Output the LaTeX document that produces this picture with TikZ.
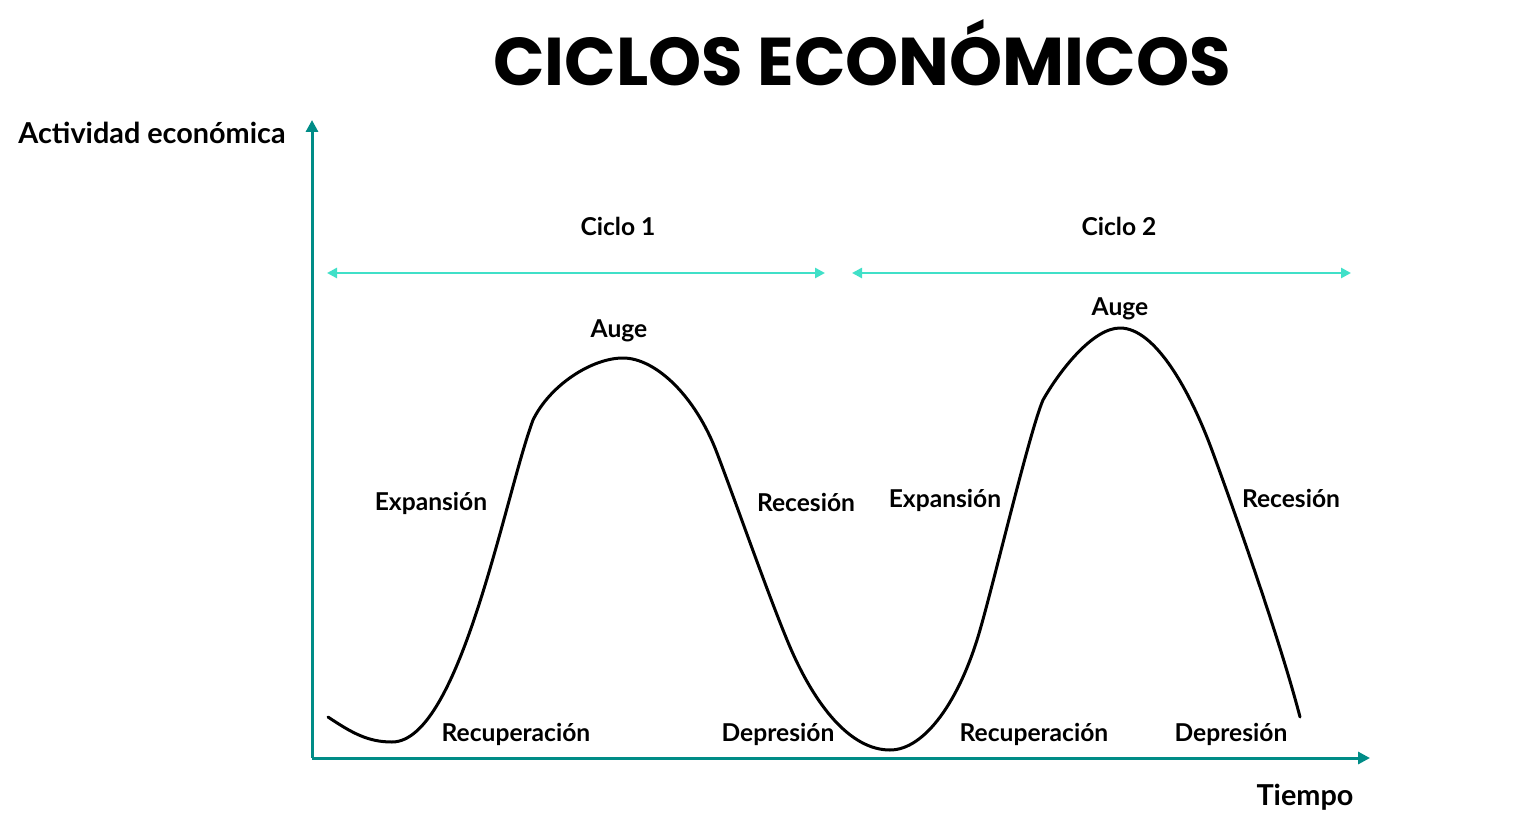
\documentclass[tikz,border=0pt]{standalone}
\usepackage{fontspec}
\setmainfont{Lato}
\newfontfamily\titlefont{Poppins}
\usetikzlibrary{arrows.meta}
\definecolor{axisteal}{RGB}{0,140,135}
\definecolor{cyclecol}{RGB}{64,224,200}
\begin{document}
\begin{tikzpicture}[x=0.5pt,y=-0.5pt,
  axis/.style={draw=axisteal,line width=1.5pt,-{Triangle[length=6pt,width=6pt]}},
  cyc/.style={draw=cyclecol,line width=1.4pt,{Triangle[length=5pt,width=5pt]}-{Triangle[length=5pt,width=5pt]}},
  lbl/.style={font=\fontsize{12.3}{14}\selectfont\bfseries,text=black,inner sep=0pt},
  axlbl/.style={font=\fontsize{14.4}{16}\selectfont\bfseries,text=black,inner sep=0pt},
  curve/.style={draw=black,line width=1.5pt,line cap=round,line join=round}]
\useasboundingbox (0,0) rectangle (1536,829);
\fill[white] (0,0) rectangle (1536,829);
% title
\node[font=\titlefont\fontsize{33.8}{38}\selectfont\bfseries,inner sep=0pt,anchor=base] (title) at (862,86) {CICLOS ECONÓMICOS};
% axes
\coordinate (o) at (312,758);
\coordinate (ytop) at (312,120);
\coordinate (xend) at (1370,758);
\draw[axis] (o) -- (ytop);
\draw[axis] (o) -- (xend);
\node[axlbl] (ylab) at (152,133) {Actividad económica};
\node[axlbl] (xlab) at (1305,797) {Tiempo};
% cycle arrows
\coordinate (c1a) at (327,273);
\coordinate (c1b) at (825,273);
\coordinate (c2a) at (852,273);
\coordinate (c2b) at (1351,273);
\draw[cyc] (c1a) -- (c1b);
\draw[cyc] (c2a) -- (c2b);
\node[lbl] (ciclo1) at (618,226) {Ciclo 1};
\node[lbl] (ciclo2) at (1119,226) {Ciclo 2};
% curve
\coordinate (p0) at (328,717);
\coordinate (p1) at (392,742);
\coordinate (p2) at (533,420);
\coordinate (p3) at (623,358);
\coordinate (p4) at (717,453);
\coordinate (p5) at (790,647);
\coordinate (p6) at (890,750);
\coordinate (p7) at (980,630);
\coordinate (p8) at (1043,400);
\coordinate (p9) at (1120,328);
\coordinate (p10) at (1213,453);
\coordinate (p11) at (1300,717);
\draw[curve] (p0) .. controls (352,733) and (368,742) .. (p1)
  .. controls (460,742) and (505,495) .. (p2)
  .. controls (550,385) and (592,358) .. (p3)
  .. controls (655,358) and (695,395) .. (p4)
  .. controls (739,511) and (770,600) .. (p5)
  .. controls (815,705) and (850,750) .. (p6)
  .. controls (925,750) and (960,700) .. (p7)
  .. controls (995,578) and (1030,430) .. (p8)
  .. controls (1060,370) and (1093,328) .. (p9)
  .. controls (1155,328) and (1190,390) .. (p10)
  .. controls (1235,513) and (1280,640) .. (p11);
% phase labels
\node[lbl] (auge1) at (619,331) {Auge};
\node[lbl] (auge2) at (1120,309) {Auge};
\node[lbl] (exp1) at (431,503) {Expansión};
\node[lbl] (exp2) at (945,500) {Expansión};
\node[lbl] (rec1) at (806,502) {Recesión};
\node[lbl] (rec2) at (1291,498) {Recesión};
\node[lbl] (recu1) at (516,734) {Recuperación};
\node[lbl] (recu2) at (1034,734) {Recuperación};
\node[lbl] (dep1) at (778,734) {Depresión};
\node[lbl] (dep2) at (1231,734) {Depresión};
\end{tikzpicture}
\end{document}
